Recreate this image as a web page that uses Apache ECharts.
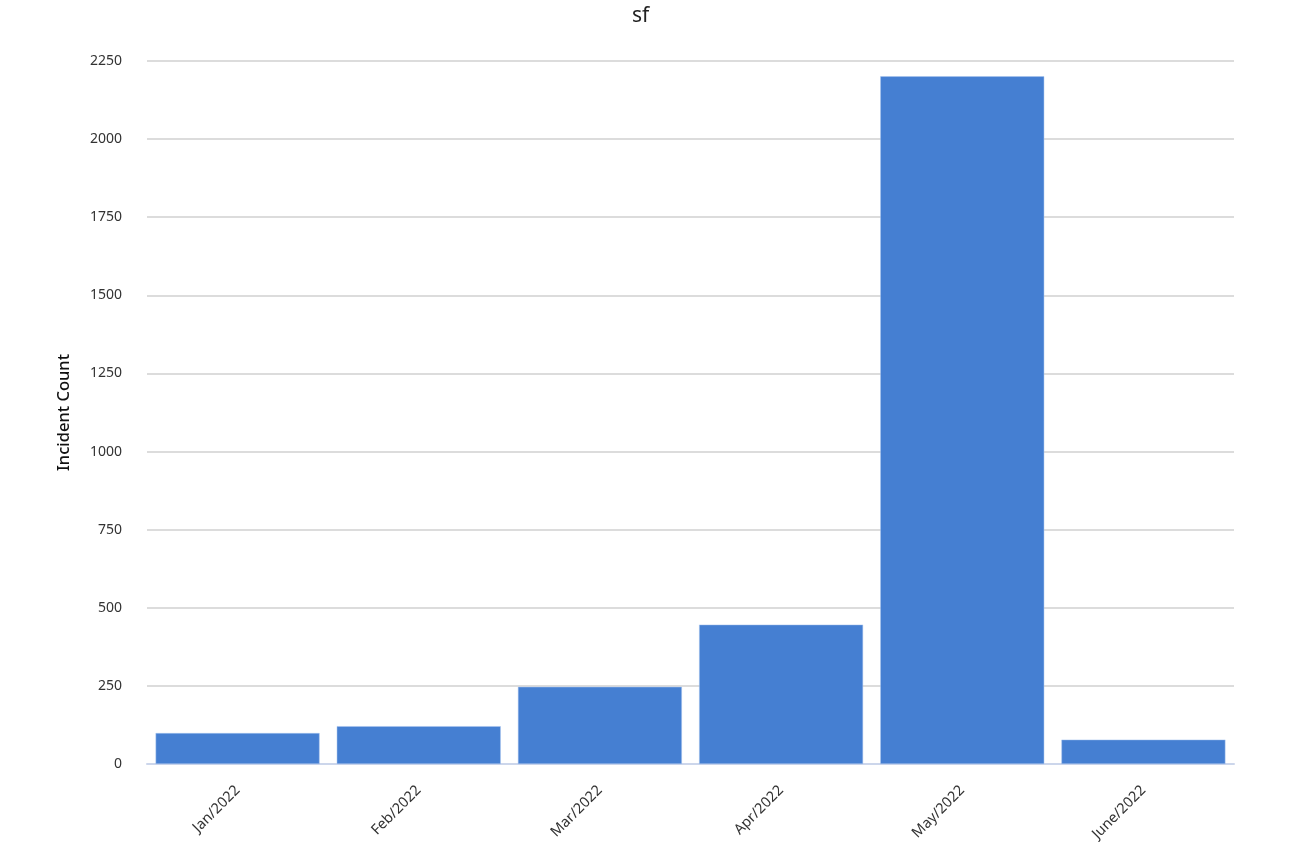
<!DOCTYPE html>
<html>
<head>
<meta charset="utf-8">
<script src="https://cdn.jsdelivr.net/npm/echarts@6/dist/echarts.min.js"></script>
<style>
html,body{margin:0;padding:0;background:#fff;}
#chart{width:1300px;height:866px;}
</style>
</head>
<body>
<div id="chart"></div>
<script>
var categories = ['Jan/2022', 'Feb/2022', 'Mar/2022', 'Apr/2022', 'May/2022', 'June/2022'];
var incidentCounts = [99, 121, 247, 446, 2201, 78];
var chartTitle = 'sf';
var yAxisName = 'Incident Count';

var chart = echarts.init(document.getElementById('chart'));
chart.setOption({
  animation: false,
  backgroundColor: '#ffffff',
  textStyle: { fontFamily: 'Noto Sans' },
  title: {
    text: chartTitle,
    left: 627,
    top: 1,
    textStyle: { fontSize: 21, fontWeight: 'normal', color: '#222', fontFamily: 'Noto Sans' }
  },
  grid: { left: 147, right: 66, top: 61, bottom: 102, containLabel: false },
  xAxis: {
    type: 'category',
    data: categories,
    axisLine: { show: true, lineStyle: { color: '#ccd6eb', width: 2 } },
    axisTick: { show: false },
    axisLabel: { rotate: 45, fontSize: 14.5, color: '#333', margin: 24, interval: 0 }
  },
  yAxis: {
    type: 'value',
    min: 0,
    max: 2250,
    interval: 250,
    name: yAxisName,
    nameLocation: 'middle',
    nameGap: 74,
    nameTextStyle: { fontSize: 16.5, color: '#111', fontWeight: 500 },
    axisLine: { show: false },
    axisTick: { show: false },
    axisLabel: { fontSize: 14, color: '#333', margin: 25, formatter: function (v) { return String(v); } },
    splitLine: { lineStyle: { color: '#dcdcdc', width: 2 } }
  },
  series: [{
    type: 'bar',
    data: incidentCounts,
    barCategoryGap: '9.5%',
    itemStyle: { color: '#457fd2', borderColor: '#a9c4ee', borderWidth: 0.5 }
  }]
});
</script>
</body>
</html>
